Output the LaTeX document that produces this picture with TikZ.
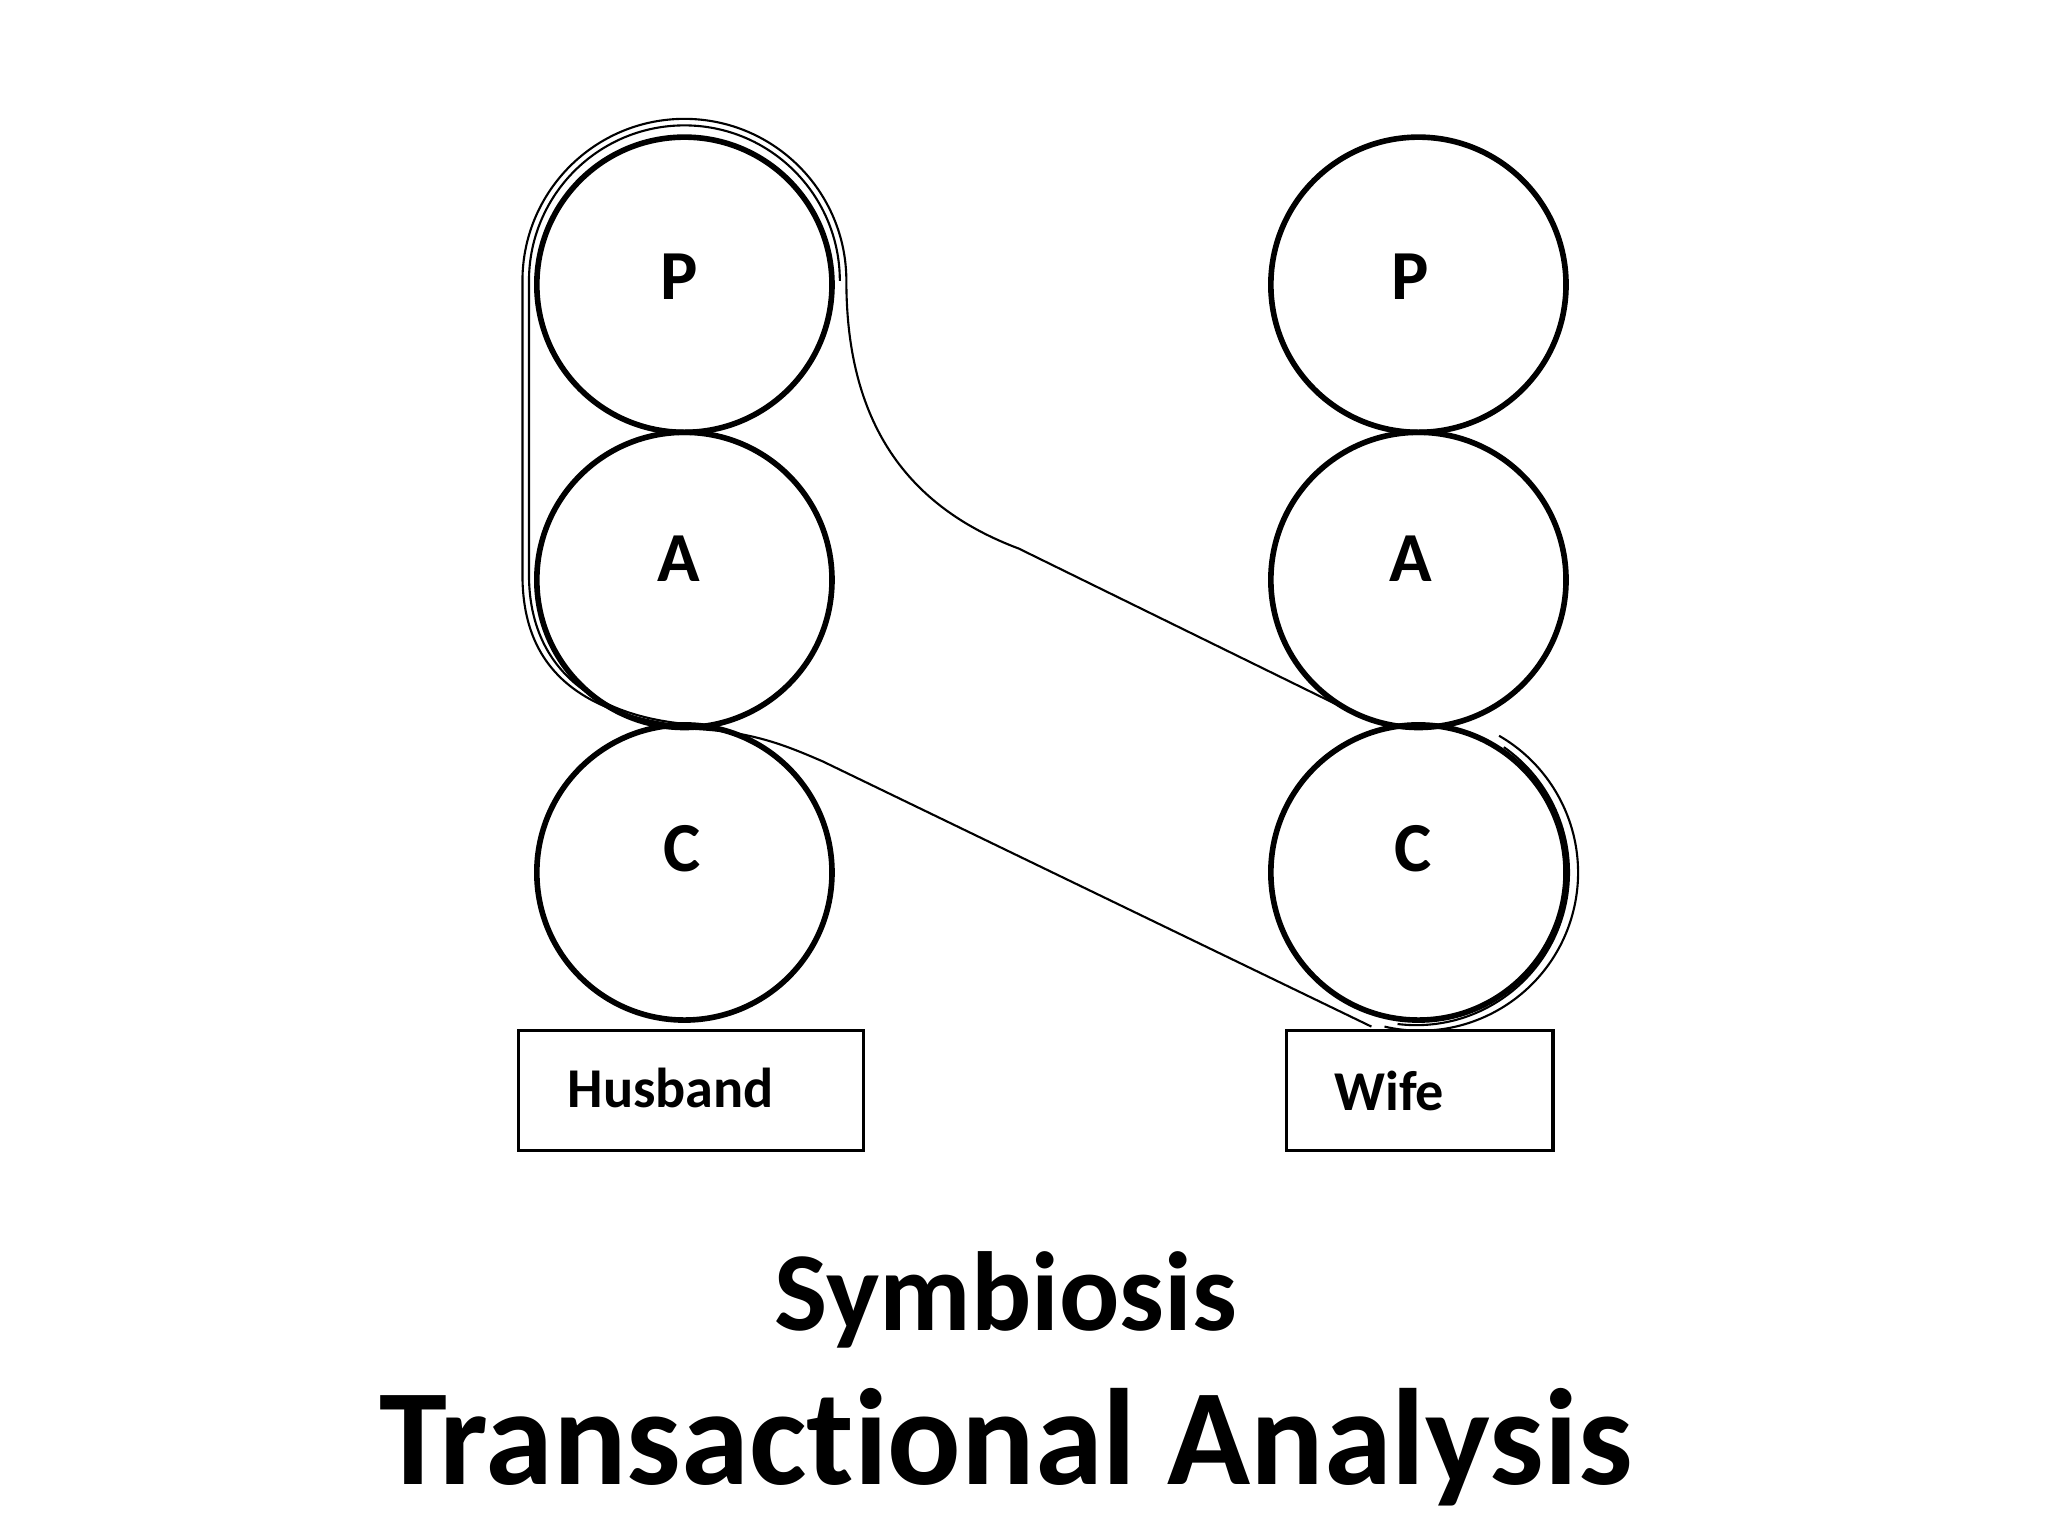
\documentclass[tikz,border=0pt]{standalone}
\usepackage{fontspec}
\setmainfont[Ligatures={NoCommon,NoDiscretionary}]{Carlito}
\begin{document}
\begin{tikzpicture}[x=0.01306cm,y=-0.01306cm,
  ego/.style={circle,draw,line width=1.6pt,minimum size={226*0.01306cm},inner sep=0pt},
  lab/.style={font=\fontsize{20}{24}\selectfont\bfseries},
  box/.style={draw,line width=1pt,minimum height={92*0.01306cm},inner sep=0pt},
  thin/.style={line width=0.6pt}]
\useasboundingbox (0,0) rectangle (1568,1176);
\fill[white] (0,0) rectangle (1568,1176);
\node[ego] (hp) at (524,218) {}; \node[lab] at (520,212) {P};
\node[ego] (ha) at (524,444) {}; \node[lab] at (520,428) {A};
\node[ego] (hc) at (524,668) {}; \node[lab] at (522,650) {C};
\node[ego] (wp) at (1086,218) {}; \node[lab] at (1080,212) {P};
\node[ego] (wa) at (1086,444) {}; \node[lab] at (1080,428) {A};
\node[ego] (wc) at (1086,668) {}; \node[lab] at (1082,650) {C};
\node[box,minimum width={264*0.01306cm}] (hb) at (529,835) {};
\node[font=\fontsize{16}{19}\selectfont\bfseries,anchor=west] (hl) at (425,833) {Husband};
\node[box,minimum width={204*0.01306cm}] (wb) at (1087,835) {};
\node[font=\fontsize{16}{19}\selectfont\bfseries,anchor=west] (wl) at (1012,835) {Wife};
% husband loop
\draw[thin] (524,556) .. controls (430,545) and (400,500) .. (400,440) -- (400,215)
  arc[start angle=180,end angle=360,radius=124] .. controls (648,330) and (700,390) .. (780,420) -- (1045,550);
\draw[thin] (522,554) .. controls (440,545) and (405,500) .. (405,440) -- (405,215)
  arc[start angle=180,end angle=360,radius=119];
% wife loop
\draw[thin] (530,558) .. controls (575,560) and (600,570) .. (630,583) -- (1050,786);
\draw[thin] (1060,786) arc[start angle=103,end angle=-60,radius=121];
\draw[thin] (1070,784) arc[start angle=97,end angle=-55,radius=117];
\node[font=\fontsize{32}{38}\selectfont\bfseries] (t1) at (770,995) {Symbiosis};
\node[font=\fontsize{39}{48}\selectfont\bfseries] (t2) at (770,1108) {Transactional Analysis};
\end{tikzpicture}
\end{document}
